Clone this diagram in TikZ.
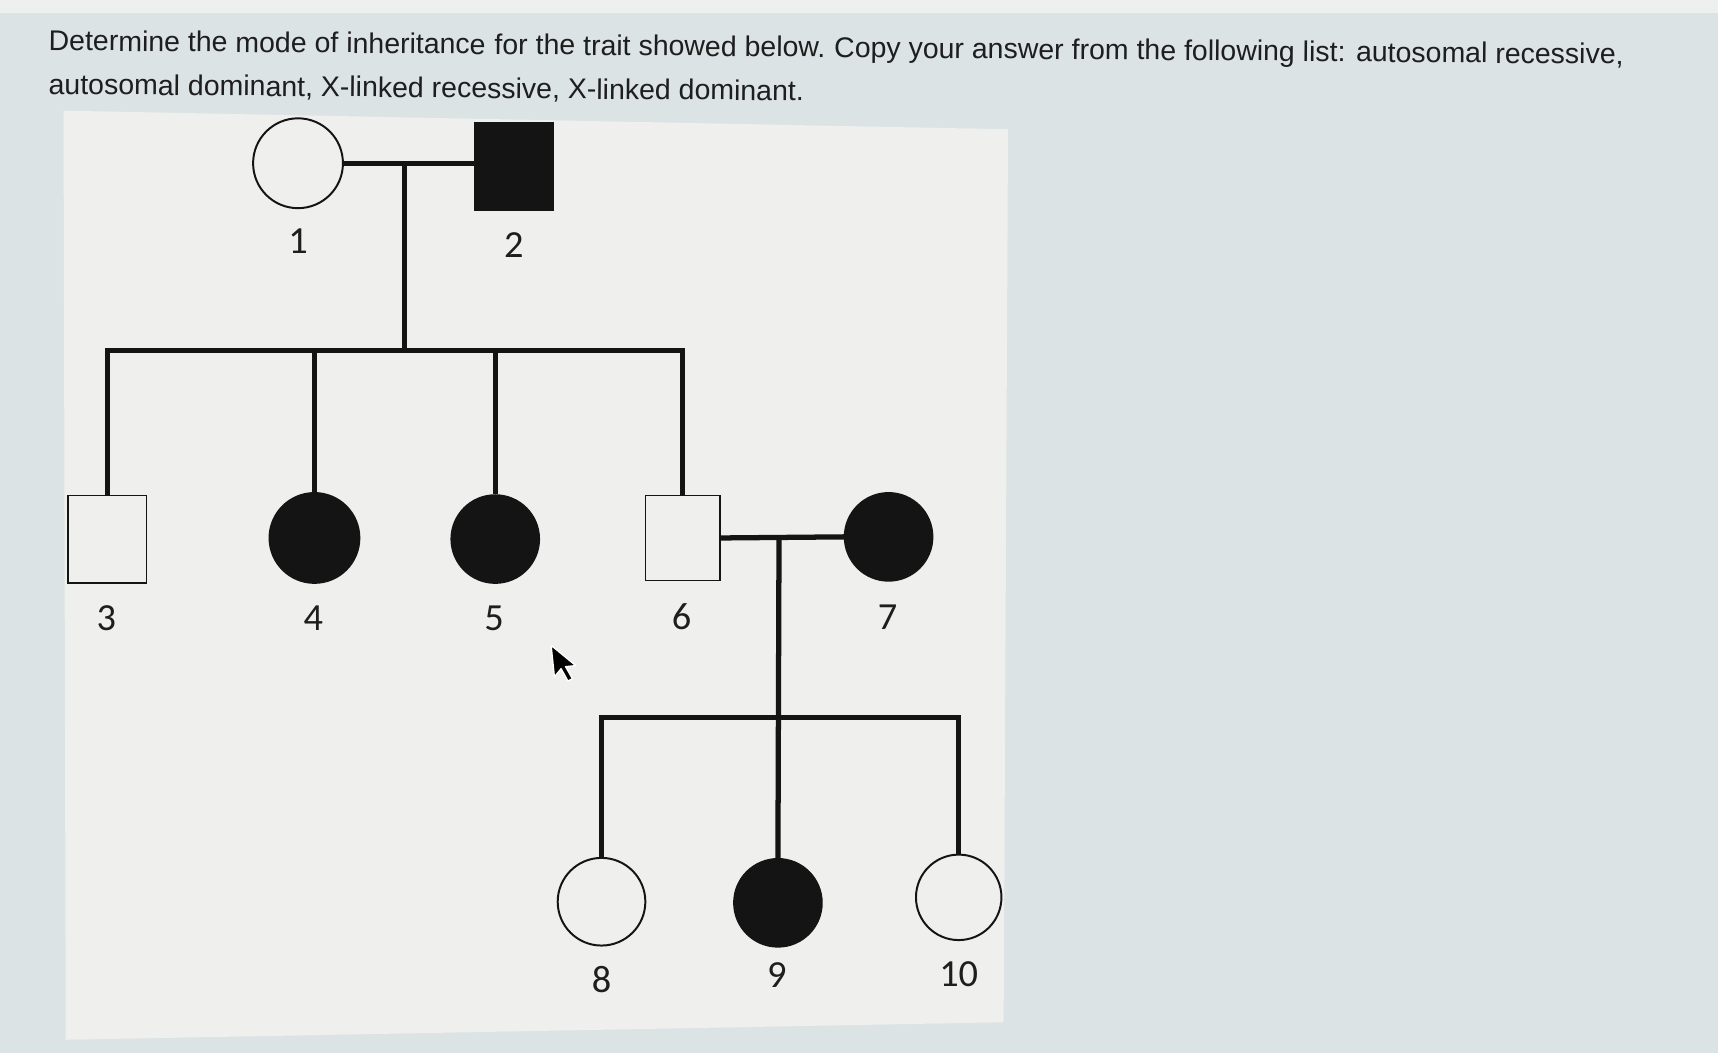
\documentclass[tikz,border=0pt]{standalone}
\usepackage{fontspec}
\setmainfont{Liberation Sans}
\newfontfamily\labelfont{Carlito}
\definecolor{bgc}{HTML}{DCE3E5}
\definecolor{topc}{HTML}{EEF0F0}
\definecolor{panelc}{HTML}{EFEFEE}
\definecolor{inkc}{HTML}{141414}
\definecolor{textc}{HTML}{1E1E1E}
\begin{document}
\begin{tikzpicture}[x=0.5pt,y=-0.5pt,
  female/.style={circle, draw=inkc, line width=0.9pt, minimum size=41pt, inner sep=0pt, fill=panelc},
  male/.style={rectangle, draw=inkc, line width=0.6pt, minimum width=36pt, minimum height=40pt, inner sep=0pt, fill=panelc},
  affected/.style={fill=inkc},
  link/.style={draw=inkc, line width=2.4pt},
  lbl/.style={font=\labelfont\fontsize{17.5}{17.5}\selectfont, text=textc, inner sep=0pt},
  question/.style={anchor=base west, rotate=-0.5, inner sep=0pt, text=textc, font=\fontsize{13}{15}\selectfont}]
\useasboundingbox (0,0) rectangle (1568,961);
\fill[bgc] (0,0) rectangle (1568,961);
\fill[topc] (0,0) rectangle (1568,12);
\fill[panelc] (58,101) -- (920,118) -- (916,933) -- (60,949) -- cycle;

\node[question] (q1a) at (44,46) {Determine the mode of inheritance};
\node[question] (q1b) at (q1a.base east) {\hspace*{0.278em}for the trait showed below.};
\node[question] (q1c) at (q1b.base east) {\hspace*{0.278em}Copy your answer from the following list: autosomal recessive,};
\node[question] (q2) at (44,86) {autosomal dominant, X-linked recessive, X-linked dominant.};

% generation I
\node[female] (n1) at (272,149) {};
\node[male, affected] (n2) at (469,152) {};
% generation II
\node[male] (n3) at (98,492) {};
\node[female, affected] (n4) at (287,491) {};
\node[female, affected, minimum size=40pt] (n5) at (452,492) {};
\node[male, minimum width=34pt, minimum height=39pt] (n6) at (623,491) {};
\node[female, affected, minimum size=40pt] (n7) at (811,490) {};
% generation III
\node[female, minimum size=40pt] (n8) at (549,823) {};
\node[female, affected, minimum size=40pt] (n9) at (710,824) {};
\node[female, minimum size=39pt] (n10) at (875,819) {};

% labels
\node[lbl] (l1) at (272,220) {1};
\node[lbl] (l2) at (469,224) {2};
\node[lbl] (l3) at (97,564) {3};
\node[lbl] (l4) at (286,564) {4};
\node[lbl] (l5) at (451,564) {5};
\node[lbl] (l6) at (622,563) {6};
\node[lbl] (l7) at (810,563) {7};
\node[lbl] (l8) at (549,894) {8};
\node[lbl] (l9) at (709,890) {9};
\node[lbl] (l10) at (875,889) {10};

% family 1
\coordinate (mid1) at (369,151);
\coordinate (sib1) at (369,320);
\draw[link] (n1.east) -- (n2.west |- n1.east);
\draw[link] (mid1) -- (sib1);
\draw[link] (n3.north) |- (sib1) -| (n6.north);
\draw[link] (n4.north) -- (n4.north |- sib1);
\draw[link] (n5.north) -- (n5.north |- sib1);

% family 2
\coordinate (mid2) at (711,490);
\coordinate (sib2) at (711,655);
\draw[link] (n6.east) -- (n7.west);
\draw[link] (mid2) -- (n9.north);
\draw[link] (n8.north) |- (sib2) -| (n10.north);

% mouse pointer
\begin{scope}[shift={(503,589)}, x=0.85pt, y=-0.85pt, rotate=6]
\filldraw[fill=black, draw=white, line width=0.6pt, line join=round]
  (0,0) -- (0,17) -- (4,13) -- (7,20) -- (9.5,19) -- (6.5,12.2) -- (12,12.2) -- cycle;
\end{scope}
\end{tikzpicture}
\end{document}
